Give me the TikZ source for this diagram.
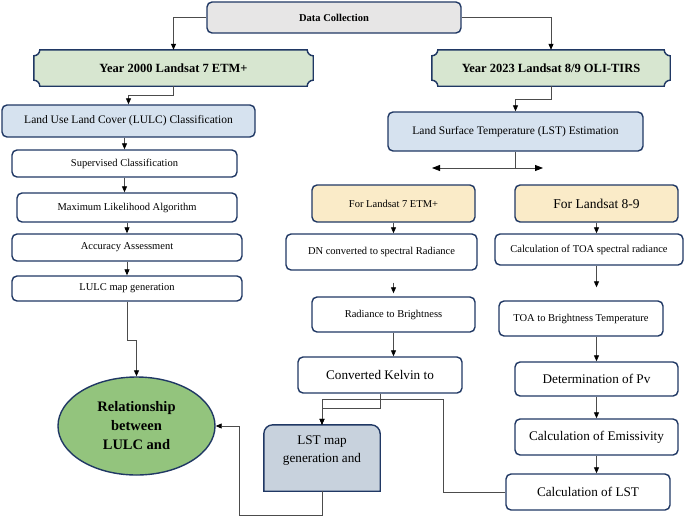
\documentclass[tikz,border=0pt]{standalone}
\usepackage{fontspec}
\setmainfont{Liberation Serif}
\usepackage{xcolor}
\definecolor{boxnavy}{RGB}{32, 56, 100}
\definecolor{boxgrey}{RGB}{231, 230, 230}
\definecolor{yeargreen}{RGB}{215, 230, 208}
\definecolor{boxblue}{RGB}{214, 226, 239}
\definecolor{boxtan}{RGB}{250, 235, 200}
\definecolor{mapgrey}{RGB}{200, 210, 221}
\definecolor{relgreen}{RGB}{147, 196, 125}
\usepackage{tikz}
\usetikzlibrary{
  arrows.meta,
  shapes.geometric,
  backgrounds
}

\newcommand{\yearplaque}[1]{%
  \draw[plaque] ([xshift=6pt]#1.north west) -- ([xshift=-6pt]#1.north east)
    arc[start angle=180, end angle=90, radius=6]
    -- ([yshift=6pt]#1.south east)
    arc[start angle=270, end angle=180, radius=6]
    -- ([xshift=6pt]#1.south west)
    arc[start angle=0, end angle=-90, radius=6]
    -- ([yshift=-6pt]#1.north west)
    arc[start angle=90, end angle=0, radius=6]
    -- cycle;}

\begin{document}
\begin{tikzpicture}[
  x=1pt, y=-1pt,
  box/.style={
    draw=boxnavy, line width=1.4pt,
    rounded corners=5pt,
    align=center, inner sep=2pt, text=black
  },
  greybox/.style={box, fill=boxgrey, font=\fontsize{10.5}{12}\selectfont\bfseries},
  yearbox/.style={inner sep=0pt, font=\fontsize{12.5}{15}\selectfont\bfseries},
  plaque/.style={draw=boxnavy, line width=1.4pt, fill=yeargreen},
  bluebox/.style={box, fill=boxblue, font=\fontsize{11.5}{14}\selectfont},
  smallbox/.style={box, fill=white, font=\fontsize{10.5}{12}\selectfont},
  tanbox/.style={box, fill=boxtan},
  bigbox/.style={box, fill=white, font=\fontsize{13.2}{16}\selectfont},
  mapbox/.style={inner sep=0pt, align=center, font=\fontsize{13.2}{18}\selectfont},
  mapshape/.style={draw=boxnavy, line width=1.4pt, fill=mapgrey},
  relbox/.style={
    ellipse, draw=boxnavy, line width=1.4pt, fill=relgreen,
    font=\fontsize{14.5}{19}\selectfont\bfseries,
    align=center, inner sep=0pt
  },
  link/.style={line width=0.8pt, draw=black!70},
  arrow/.style={link, -{Triangle[length=6pt, width=5pt, color=black]}},
  twoway/.style={link, {Triangle[length=8pt, width=6pt, color=black]}-{Triangle[length=8pt, width=6pt, color=black]}}
]
\useasboundingbox (0,0) rectangle (685,517);

\node[greybox, minimum width=254pt, minimum height=31pt] (datacol) at (334,17.5) {Data Collection};
\node[yearbox, minimum width=279pt, minimum height=36pt] (y2000) at (173.5,68) {Year 2000 Landsat 7 ETM+};
\node[yearbox, minimum width=238pt, minimum height=36pt] (y2023) at (551,68) {Year 2023 Landsat 8/9 OLI-TIRS};

\node[bluebox, minimum width=253pt, minimum height=32pt] (lulc) at (128.5,121) {Land Use Land Cover (LULC) Classification};
\node[smallbox, minimum width=225pt, minimum height=27pt] (superv) at (124.5,163.5) {Supervised Classification};
\node[smallbox, minimum width=220pt, minimum height=29pt] (maxlik) at (127,207.5) {Maximum Likelihood Algorithm};
\node[smallbox, minimum width=230pt, minimum height=27pt] (accur) at (127,247.5) {Accuracy Assessment};
\node[smallbox, minimum width=230pt, minimum height=25pt] (lulcmap) at (127,288.5) {LULC map generation};
\node[relbox, minimum width=157pt, minimum height=98pt] (relation) at (136.5,426) {Relationship\\between\\LULC and};

\node[bluebox, minimum width=255pt, minimum height=39pt] (lst) at (515.5,131.5) {Land Surface Temperature (LST) Estimation};
\coordinate (splitL) at (432,168);
\coordinate (splitR) at (543,168);
\node[tanbox, font=\fontsize{10.5}{12}\selectfont, minimum width=163pt, minimum height=37pt] (for7) at (393.5,203.5) {For Landsat 7 ETM+};
\node[tanbox, font=\fontsize{13.5}{16}\selectfont, minimum width=163pt, minimum height=37pt] (for89) at (596.5,203.5) {For Landsat 8-9};
\node[smallbox, minimum width=191pt, minimum height=36pt] (dn) at (381.5,252) {DN converted to spectral Radiance};
\node[smallbox, minimum width=188pt, minimum height=31pt] (toarad) at (589,249.5) {Calculation of TOA spectral radiance};
\node[smallbox, minimum width=163pt, minimum height=35pt] (radbright) at (393.5,314.5) {Radiance to Brightness};
\node[smallbox, minimum width=164pt, minimum height=35pt] (toabright) at (581,318.5) {TOA to Brightness Temperature};
\node[bigbox, minimum width=164pt, minimum height=36pt] (kelvin) at (380,375) {Converted Kelvin to};
\node[bigbox, minimum width=163pt, minimum height=34pt] (pv) at (596.5,379) {Determination of Pv};
\node[bigbox, minimum width=163pt, minimum height=36pt] (emis) at (596.5,437) {Calculation of Emissivity};
\node[bigbox, minimum width=164pt, minimum height=36pt] (calclst) at (588,492) {Calculation of LST};
\node[mapbox, minimum width=116pt, minimum height=66pt] (lstmap) at (322,458) {LST map\\generation and\\\mbox{}};
\coordinate (bend) at (443,399);
\coordinate (loop) at (239,515);

\begin{scope}[on background layer]
\yearplaque{y2000}
\yearplaque{y2023}
\draw[mapshape] (lstmap.south west) [rounded corners=9pt] -- (lstmap.north west) -- (lstmap.north east) [sharp corners] -- (lstmap.south east) -- cycle;
\end{scope}

\draw[arrow] (datacol.west) -| (y2000.north);
\draw[arrow] (datacol.east) -| (y2023.north);
\draw[arrow] (y2000.south) -- ++(0,9) -| (lulc.north);
\draw[arrow] (lulc.south -| superv.north) -- (superv.north);
\draw[arrow] (superv.south) -- (superv.south |- maxlik.north);
\draw[arrow] (maxlik.south) -- (accur.north);
\draw[arrow] (accur.south) -- (lulcmap.north);
\draw[arrow] (lulcmap.south) -- ++(0,39) -| (relation.north);

\draw[arrow] (y2023.south) -- ++(0,13) -| (lst.north);
\draw[link] (lst.south) -- (lst.south |- splitL);
\draw[twoway] (splitL) -- (splitR);
\draw[arrow] (for7.south) -- (for7.south |- dn.north);
\draw[arrow] (for89.south) -- (for89.south |- toarad.north);
\draw[arrow, shorten <=12pt, shorten >=3pt] (for7.south |- dn.south) -- (for7.south |- radbright.north);
\draw[arrow, shorten >=13pt] (for89.south |- toarad.south) -- (for89.south |- toabright.north);
\draw[arrow] (for7.south |- radbright.south) -- (for7.south |- kelvin.north);
\draw[arrow] (pv.north |- toabright.south) -- (pv.north);
\draw[arrow] (pv.south) -- (emis.north);
\draw[arrow] (emis.south) -- (emis.south |- calclst.north);
\draw[arrow] (kelvin.south) -- ++(0,15) -| (lstmap.north);
\draw[arrow] (calclst.west) -| (bend) -| (lstmap.north);
\draw[arrow] (lstmap.south) |- (loop) |- (relation.east);
\end{tikzpicture}
\end{document}
